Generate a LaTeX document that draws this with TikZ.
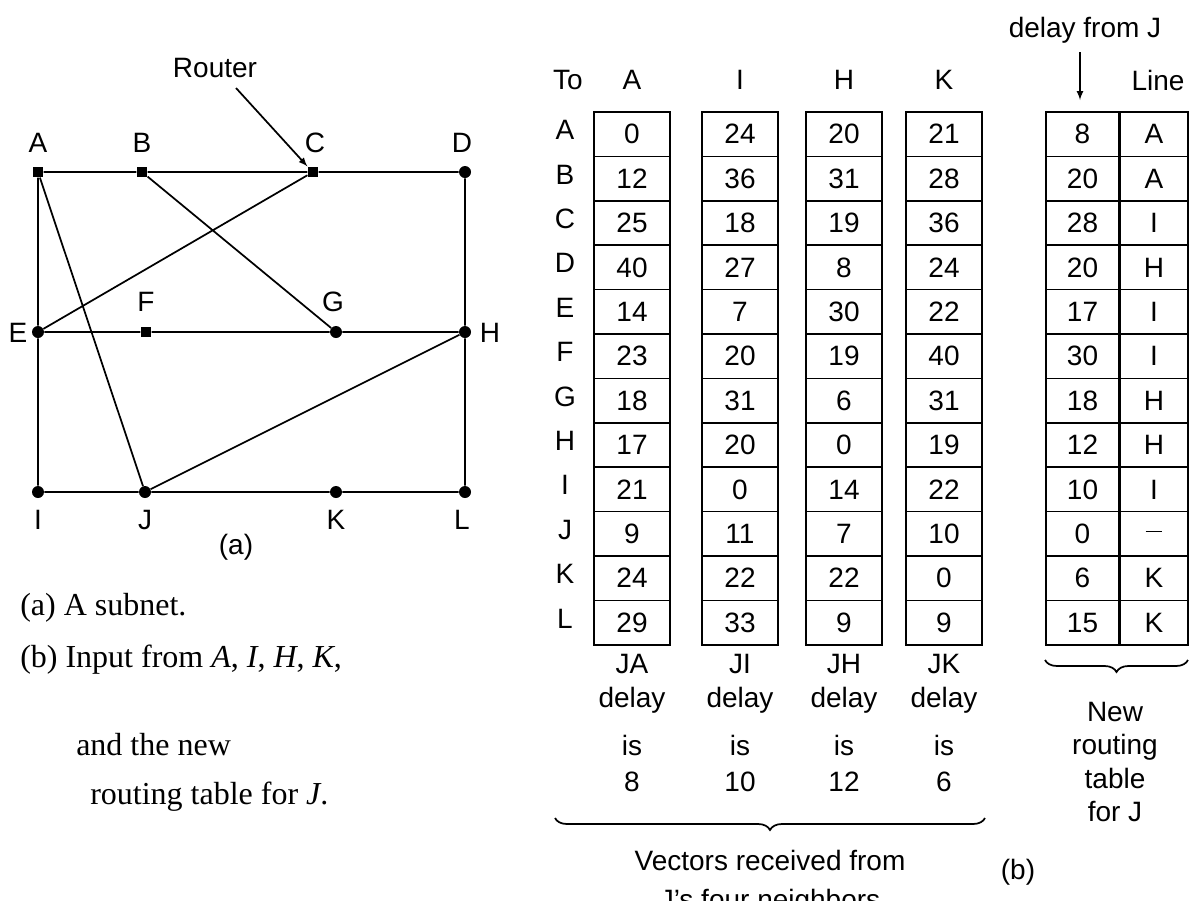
\documentclass[tikz,border=0pt]{standalone}
\usepackage{fontspec}
\setmainfont{Liberation Sans}
\newfontfamily\capfont{Liberation Serif}
\usetikzlibrary{decorations.pathreplacing}
\begin{document}
\begin{tikzpicture}[x=0.75pt,y=-0.75pt,
  lbl/.style={font=\fontsize{21}{24}\selectfont,inner sep=0pt},
  captext/.style={font=\capfont\fontsize{24}{27}\selectfont,inner sep=0pt,anchor=west},
  rt/.style={circle,fill,inner sep=0pt,minimum size=9pt},
  rq/.style={rectangle,fill,inner sep=0pt,minimum size=8pt},
  cell/.style={draw,line width=1.3pt,minimum width=57pt,minimum height=33.3pt,inner sep=0pt,font=\fontsize{21}{24}\selectfont},
  cellb/.style={cell,minimum width=55pt},
  cellc/.style={cell,minimum width=51pt},
  edge/.style={line width=1.3pt}]
\useasboundingbox (0,0) rectangle (1200,900);
% graph
\node[rq] (A) at (38,172) {};
\node[rq] (B) at (142,172) {};
\node[rq] (C) at (313,172) {};
\node[rt] (D) at (465,172) {};
\node[rt] (E) at (38,332) {};
\node[rq] (F) at (146,332) {};
\node[rt] (G) at (336,332) {};
\node[rt] (H) at (465,332) {};
\node[rt] (I) at (38,492) {};
\node[rt] (J) at (145,492) {};
\node[rt] (K) at (336,492) {};
\node[rt] (L) at (465,492) {};
\draw[edge] (A)--(B)--(C)--(D) (A)--(E)--(I) (D)--(H)--(L) (E)--(F)--(G)--(H) (I)--(J)--(K)--(L)
  (A)--(J) (B)--(G) (C)--(E) (J)--(H);
\foreach \n/\x/\y in {A/38/143,B/142/143,C/315/143,D/462/143,E/18/333,F/146/302,G/333/302,H/490/333,I/38/520,J/145/520,K/336/520,L/462/520}
  \node[lbl] (l\n) at (\x,\y) {\n};
\node[lbl] (la) at (236,547) {(a)};
\node[lbl] (router) at (215,68) {Router};
\draw[edge,-latex] (236,88) -- (C.north west);
\node[captext] (capa) at (20,608) {(a) A subnet.};
\node[captext] (capb) at (20,660) {(b) Input from \textit{A}, \textit{I}, \textit{H}, \textit{K},};
\node[captext] (capc) at (76,745) {and the new};
\node[captext] (capd) at (90,797) {routing table for \textit{J}.};
% tables
\node[lbl] (to) at (568,80) {To};
\foreach \h/\x in {A/632,I/740,H/844,K/944} \node[lbl] (h\h) at (\x,80) {\h};
\node[lbl] (hline) at (1158,80) {Line};
\node[lbl] (dfj) at (1085,30) {delay from J};
\coordinate (dfa) at (1080,52);
\coordinate (dfb) at (1080,100);
\draw[edge,-latex] (dfa)--(dfb);
\foreach \r [count=\i] in {A,B,C,D,E,F,G,H,I,J,K,L}
  \node[lbl] (row\i) at (565,{134+44.4*(\i-1)-4}) {\r};
\foreach \c/\x/\vals in {a/632/{0,12,25,40,14,23,18,17,21,9,24,29},
   i/740/{24,36,18,27,7,20,31,20,0,11,22,33},
   h/844/{20,31,19,8,30,19,6,0,14,7,22,9},
   k/944/{21,28,36,24,22,40,31,19,22,10,0,9}}
  \foreach \v [count=\i] in \vals
    \node[cell] (\c\i) at (\x,{134.2+44.4*(\i-1)}) {\v};
\foreach \d/\l [count=\i] in {8/A,20/A,28/I,20/H,17/I,30/I,18/H,12/H,10/I,0/{\rule[0.3ex]{0.6em}{1.2pt}},6/K,15/K}{
  \node[cellb] (n\i) at (1082.5,{134.2+44.4*(\i-1)}) {\d};
  \node[cellc] (m\i) at (1154,{134.2+44.4*(\i-1)}) {\l};}
\foreach \t/\x in {JA/632,JI/740,JH/844,JK/944}{
  \node[lbl] (t\t) at (\x,664) {\t};
  \node[lbl] (d\t) at (\x,700) {delay};
  \node[lbl] (s\t) at (\x,745) {is};}
\foreach \t/\x/\v in {JA/632/8,JI/740/10,JH/844/12,JK/944/6} \node[lbl] (v\t) at (\x,782) {\v};
\coordinate (b1) at (555,818); \coordinate (b2) at (985,818);
\draw[edge,decorate,decoration={brace,mirror,amplitude=9pt}] (b1)--(b2);
\coordinate (c1) at (1045,660); \coordinate (c2) at (1188,660);
\draw[edge,decorate,decoration={brace,mirror,amplitude=9pt}] (c1)--(c2);
\node[lbl] (vr) at (770,860) {Vectors received from};
\node[lbl] (vr2) at (770,902) {J's four neighbors};
\node[lbl] (lb) at (1018,872) {(b)};
\node[lbl,align=center] (newt) at (1115,762) {New\\[1pt]routing\\[1pt]table\\[1pt]for J};
\end{tikzpicture}
\end{document}
